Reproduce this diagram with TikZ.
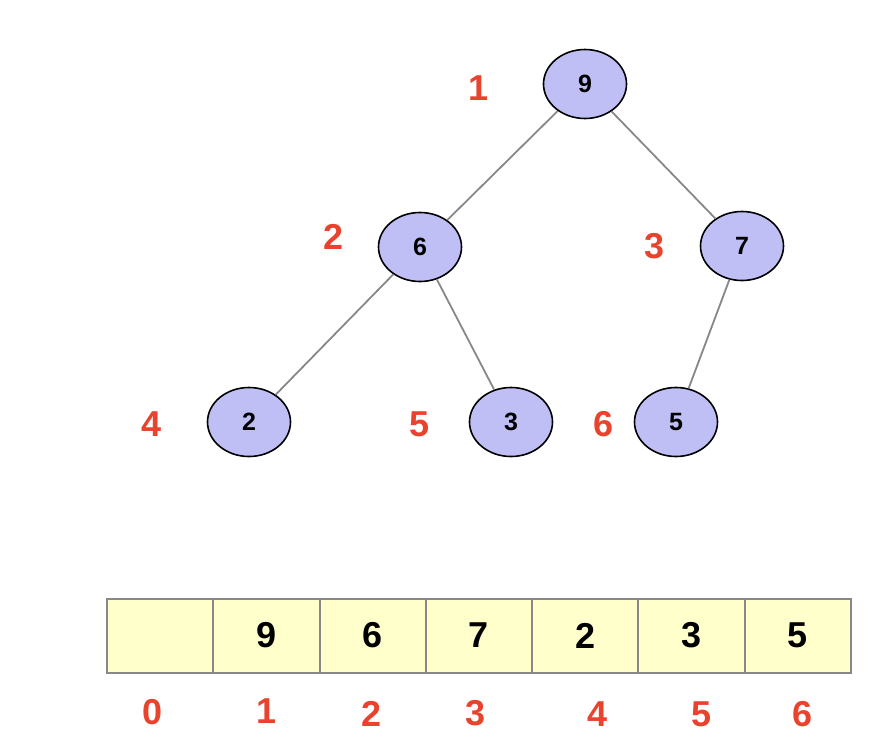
\documentclass[tikz,border=0pt]{standalone}
\usepackage{fontspec}
\setmainfont{Liberation Sans}
\usetikzlibrary{shapes.geometric}
\definecolor{nodefill}{HTML}{BFBFF5}
\definecolor{cellfill}{HTML}{FFFFCC}
\definecolor{idxred}{HTML}{E8432D}
\definecolor{edgegray}{HTML}{888888}
\begin{document}
\begin{tikzpicture}[x=1pt,y=-1pt,
  heap/.style={ellipse, draw=black, line width=1.6pt, fill=nodefill,
    minimum width=83pt, minimum height=69pt, inner sep=0pt,
    font=\fontsize{25}{25}\selectfont\bfseries},
  idx/.style={text=idxred, inner sep=0pt, font=\fontsize{36}{36}\selectfont\bfseries},
  cell/.style={draw=edgegray, line width=2pt, fill=cellfill,
    minimum width=106.3pt, minimum height=74pt, inner sep=0pt,
    font=\fontsize{36}{36}\selectfont\bfseries},
  link/.style={draw=edgegray, line width=1.8pt}]
\useasboundingbox (0,0) rectangle (884,750);
% tree nodes
\node[heap] (n1) at (585,84) {9};
\node[heap] (n2) at (420,247) {6};
\node[heap] (n3) at (742,246) {7};
\node[heap] (n4) at (249,422) {2};
\node[heap] (n5) at (511,422) {3};
\node[heap] (n6) at (676,422) {5};
% edges
\draw[link] (n1) -- (n2);
\draw[link] (n1) -- (n3);
\draw[link] (n2) -- (n4);
\draw[link] (n2) -- (n5);
\draw[link] (n3) -- (n6);
% tree index labels
\node[idx] (t1) at (479,88) {1};
\node[idx] (t2) at (334,237) {2};
\node[idx] (t3) at (655,246) {3};
\node[idx] (t4) at (152,424) {4};
\node[idx] (t5) at (420,424) {5};
\node[idx] (t6) at (604,424) {6};
% array
\node[cell] (c0) at (160.1,635.5) {};
\node[cell] (c1) at (266.4,635.5) {9};
\node[cell] (c2) at (372.7,635.5) {6};
\node[cell] (c3) at (479.0,635.5) {7};
\node[cell] (c4) at (585.3,635.5) {2};
\node[cell] (c5) at (691.6,635.5) {3};
\node[cell] (c6) at (797.9,635.5) {5};
% array index labels
\node[idx] (a0) at (153,712) {0};
\node[idx] (a1) at (267,711) {1};
\node[idx] (a2) at (372,714) {2};
\node[idx] (a3) at (476,713) {3};
\node[idx] (a4) at (598,714) {4};
\node[idx] (a5) at (702,714) {5};
\node[idx] (a6) at (803,714) {6};
\end{tikzpicture}
\end{document}
